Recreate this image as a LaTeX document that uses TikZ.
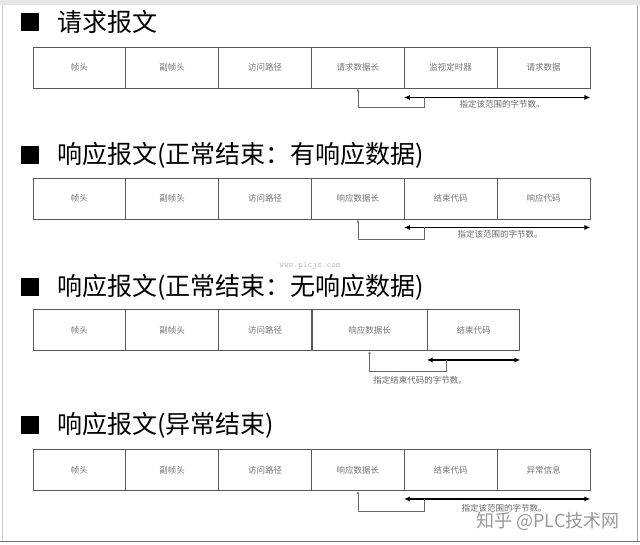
\documentclass[tikz,border=0pt]{standalone}
\usepackage{fontspec}
\setmainfont{Noto Sans CJK SC}
\usetikzlibrary{arrows.meta,calc}

\begin{document}
\begin{tikzpicture}[x=1pt,y=-1pt,
	cell/.style={draw=black!65, line width=0.9pt, minimum width=92.83pt, minimum height=41pt, inner sep=0pt, text=black!55, font=\fontsize{8.5}{8.5}\selectfont},
	title/.style={anchor=west, inner sep=0pt, font=\fontsize{25}{25}\selectfont},
	bullet/.style={fill=black, minimum size=18pt, inner sep=0pt},
	span/.style={{Latex[length=6pt,width=5pt]}-{Latex[length=6pt,width=5pt]}, line width=1.3pt},
	link/.style={-{Latex[length=3pt,width=2.5pt]}, draw=black!60, line width=0.7pt},
	note/.style={inner sep=0pt, text=black!60, font=\fontsize{8.5}{8.5}\selectfont}]
	\useasboundingbox (0,0) rectangle (640,544);
	% frame of the screenshot
	\fill[black!10] (0,0) rectangle (640,5);
	\draw[black!20, line width=0.8pt] (2.5,5) -- (2.5,541);
	\draw[black!35, line width=0.8pt] (637,5) -- (637,541);
	\draw[black!55, line width=1.2pt] (0,541.5) -- (640,541.5);

	% request
	\node[bullet] (m1) at (30,22) {};
	\node[title] (t1) at (57,22) {请求报文};
	\foreach \t [count=\i] in {帧头,副帧头,访问路径,请求数据长,监视定时器,请求数据}
		\node[cell] (a\i) at ({33+92.83*(\i-0.5)},67.5) {\t};
	\coordinate (p1) at ($(a5.south west)+(0,9)$);
	\coordinate (q1) at ($(a6.south east)+(0,9)$);
	\coordinate (k1) at ($(p1)+(20,0)$);
	\draw[span] (p1) -- (q1);
	\draw[link] (k1) -- ++(0,10) -| (a4.south);
	\node[note] (n1) at (502,104) {指定该范围的字节数。};

	% response, normal end, with data
	\node[bullet] (m2) at (30,155) {};
	\node[title] (t2) at (57,155) {响应报文(正常结束：有响应数据)};
	\foreach \t [count=\i] in {帧头,副帧头,访问路径,响应数据长,结束代码,响应代码}
		\node[cell] (b\i) at ({33+92.83*(\i-0.5)},198.5) {\t};
	\coordinate (p2) at ($(b5.south west)+(0,8)$);
	\coordinate (q2) at ($(b6.south east)+(0,8)$);
	\coordinate (k2) at ($(p2)+(20,0)$);
	\draw[span] (p2) -- (q2);
	\draw[link] (k2) -- ++(0,12) -| (b4.south);
	\node[note] (n2) at (500,234) {指定该范围的字节数。};

	\node[text=black!25, inner sep=0pt, font=\ttfamily\fontsize{9}{9}\selectfont] (w1) at (310,266) {www.plcjs.com};

	% response, normal end, no data
	\node[bullet] (m3) at (30,287) {};
	\node[title] (t3) at (57,287) {响应报文(正常结束：无响应数据)};
	\foreach \t [count=\i] in {帧头,副帧头,访问路径}
		\node[cell] (c\i) at ({33+92.83*(\i-0.5)},330) {\t};
	\node[cell, minimum width=115pt] (c4) at (369.5,330) {响应数据长};
	\node[cell] (c5) at (473.5,330) {结束代码};
	\coordinate (p3) at ($(c5.south west)+(0,9)$);
	\coordinate (q3) at ($(c5.south east)+(0,9)$);
	\coordinate (k3) at ($(p3)+(20,0)$);
	\draw[span] (p3) -- (q3);
	\draw[link] (k3) -- ++(0,11) -| (c4.south);
	\node[note] (n3) at (420,380) {指定结束代码的字节数。};

	% response, abnormal end
	\node[bullet] (m4) at (30,425) {};
	\node[title] (t4) at (57,425) {响应报文(异常结束)};
	\foreach \t [count=\i] in {帧头,副帧头,访问路径,响应数据长,结束代码,异常信息}
		\node[cell] (d\i) at ({33+92.83*(\i-0.5)},470) {\t};
	\coordinate (p4) at ($(d5.south west)+(0,8)$);
	\coordinate (q4) at ($(d6.south east)+(0,8)$);
	\coordinate (k4) at ($(p4)+(20,0)$);
	\draw[span] (p4) -- (q4);
	\draw[link] (k4) -- ++(0,12) -| (d4.south);
	\node[note] (n4) at (504,508) {指定该范围的字节数。};

	\node[text=black!40, inner sep=0pt, font=\fontsize{18}{18}\selectfont] (w2) at (548,521) {知乎 @PLC技术网};
\end{tikzpicture}
\end{document}
